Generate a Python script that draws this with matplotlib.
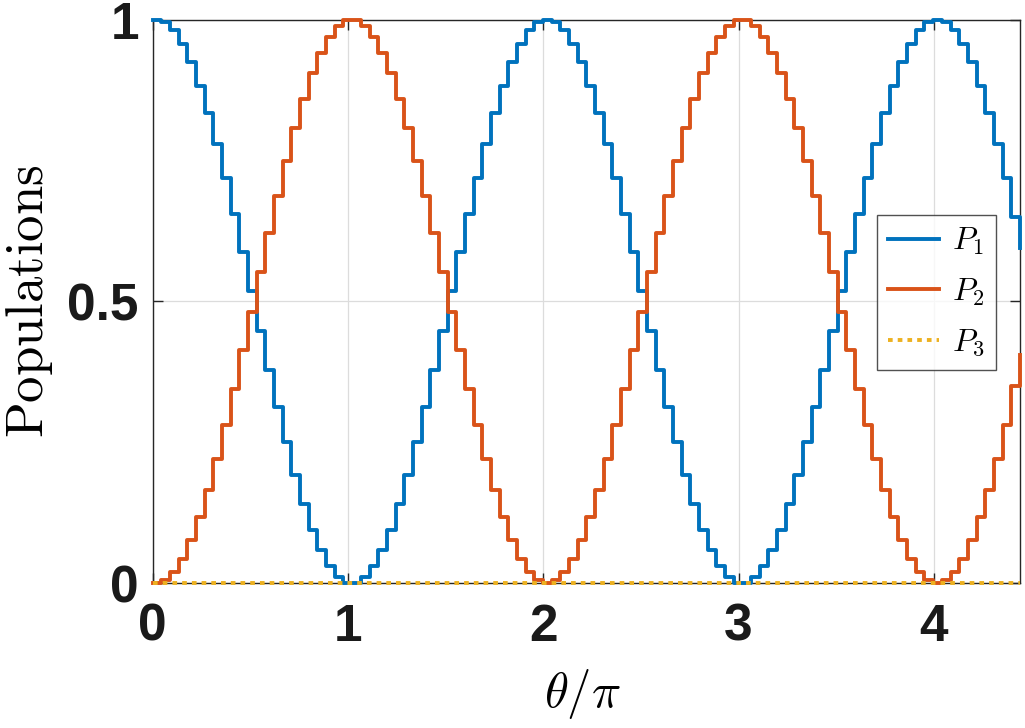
import matplotlib.pyplot as plt
import numpy as np

plt.rcParams['mathtext.fontset'] = 'cm'

# sampling of theta/pi (101 samples, stairs plot)
theta = np.linspace(0, 4.44, 101)

P1 = [1.000, 0.995, 0.981, 0.957, 0.924, 0.883, 0.835, 0.780, 0.719, 0.655,
      0.587, 0.518, 0.448, 0.379, 0.313, 0.250, 0.192, 0.140, 0.095, 0.059,
      0.030, 0.011, 0.001, 0.001, 0.011, 0.030, 0.059, 0.095, 0.140, 0.192,
      0.250, 0.313, 0.379, 0.448, 0.518, 0.587, 0.655, 0.719, 0.780, 0.835,
      0.883, 0.924, 0.957, 0.981, 0.995, 1.000, 0.995, 0.981, 0.957, 0.924,
      0.883, 0.835, 0.780, 0.719, 0.655, 0.587, 0.518, 0.448, 0.379, 0.313,
      0.250, 0.192, 0.140, 0.095, 0.059, 0.030, 0.011, 0.001, 0.001, 0.011,
      0.030, 0.059, 0.095, 0.140, 0.192, 0.250, 0.313, 0.379, 0.448, 0.518,
      0.587, 0.655, 0.719, 0.780, 0.835, 0.883, 0.924, 0.957, 0.981, 0.995,
      1.000, 0.995, 0.981, 0.957, 0.924, 0.883, 0.835, 0.780, 0.719, 0.650,
      0.595]

P2 = [0.000, 0.005, 0.019, 0.043, 0.076, 0.117, 0.165, 0.220, 0.281, 0.345,
      0.413, 0.482, 0.552, 0.621, 0.687, 0.750, 0.808, 0.860, 0.905, 0.941,
      0.970, 0.989, 0.999, 0.999, 0.989, 0.970, 0.941, 0.905, 0.860, 0.808,
      0.750, 0.687, 0.621, 0.552, 0.482, 0.413, 0.345, 0.281, 0.220, 0.165,
      0.117, 0.076, 0.043, 0.019, 0.005, 0.000, 0.005, 0.019, 0.043, 0.076,
      0.117, 0.165, 0.220, 0.281, 0.345, 0.413, 0.482, 0.552, 0.621, 0.687,
      0.750, 0.808, 0.860, 0.905, 0.941, 0.970, 0.989, 0.999, 0.999, 0.989,
      0.970, 0.941, 0.905, 0.860, 0.808, 0.750, 0.687, 0.621, 0.552, 0.482,
      0.413, 0.345, 0.281, 0.220, 0.165, 0.117, 0.076, 0.043, 0.019, 0.005,
      0.000, 0.005, 0.019, 0.043, 0.076, 0.117, 0.165, 0.220, 0.281, 0.350,
      0.405]

P3 = [0.000, 0.000, 0.000, 0.001, 0.001, 0.001, 0.001, 0.001, 0.001, 0.001,
      0.001, 0.001, 0.001, 0.001, 0.001, 0.001, 0.001, 0.001, 0.001, 0.001,
      0.001, 0.001, 0.001, 0.001, 0.001, 0.001, 0.001, 0.001, 0.001, 0.001,
      0.001, 0.001, 0.001, 0.001, 0.001, 0.001, 0.001, 0.001, 0.001, 0.001,
      0.001, 0.001, 0.001, 0.000, 0.000, 0.000, 0.000, 0.000, 0.001, 0.001,
      0.001, 0.001, 0.001, 0.001, 0.001, 0.001, 0.001, 0.001, 0.001, 0.001,
      0.001, 0.001, 0.001, 0.001, 0.001, 0.001, 0.001, 0.001, 0.001, 0.001,
      0.001, 0.001, 0.001, 0.001, 0.001, 0.001, 0.001, 0.001, 0.001, 0.001,
      0.001, 0.001, 0.001, 0.001, 0.001, 0.001, 0.001, 0.001, 0.000, 0.000,
      0.000, 0.000, 0.000, 0.001, 0.001, 0.001, 0.001, 0.001, 0.001, 0.001,
      0.001]

fig = plt.figure(figsize=(10.25, 7.28), dpi=100)
ax = fig.add_axes([0.149, 0.199, 0.846, 0.774])

ax.step(theta, P1, where='post', color='#0072BD', lw=2.8, label='$P_1$', clip_on=False, zorder=3)
ax.step(theta, P2, where='post', color='#D95319', lw=2.8, label='$P_2$', clip_on=False, zorder=3)
ax.step(theta, P3, where='post', color='#EDB120', lw=2.8, ls=(0, (1.2, 1.3)), label='$P_3$', clip_on=False, zorder=4)

ax.set_xlim(0, 4.44)
ax.set_ylim(0, 1)
ax.set_xticks([0, 1, 2, 3, 4])
ax.set_yticks([0, 0.5, 1])
ax.set_yticklabels(['0', '0.5', '1'])
ax.grid(True, color='#dcdcdc', lw=0.9)
ax.set_axisbelow(True)

ax.tick_params(direction='in', length=7, width=1, colors='#262626', top=True, right=True)
ax.tick_params(axis='x', pad=14)
ax.tick_params(axis='y', pad=10)
for lab in ax.get_xticklabels() + ax.get_yticklabels():
    lab.set_fontfamily('Liberation Sans')
    lab.set_fontweight('bold')
    lab.set_fontsize(37)
    lab.set_color('#1a1a1a')
for s in ax.spines.values():
    s.set_color('#262626')
    s.set_linewidth(1)

ax.set_xlabel(r'$\theta/\pi$', fontsize=35)
ax.set_ylabel(r'$\mathrm{Populations}$', fontsize=38)
ax.xaxis.set_label_coords(0.495, -0.148)
ax.yaxis.set_label_coords(-0.113, 0.5)

leg = ax.legend(loc='upper left', bbox_to_anchor=(0.835, 0.654), fontsize=23,
                frameon=True, fancybox=False, edgecolor='#262626', borderaxespad=0,
                handlelength=1.6, borderpad=0.35, labelspacing=0.6, handletextpad=0.4)
leg.get_frame().set_linewidth(1)

fig.savefig('out.png', dpi=100)
